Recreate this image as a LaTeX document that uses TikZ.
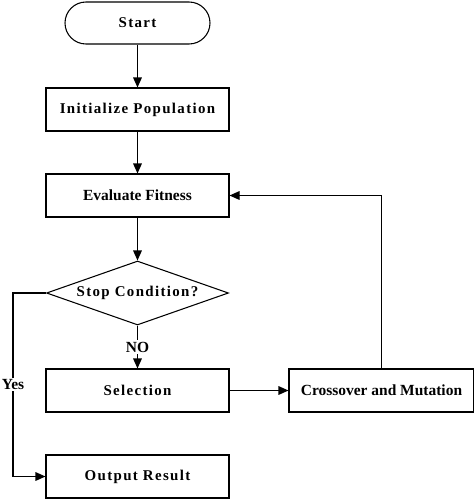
\documentclass[tikz,border=0pt]{standalone}
\usepackage{fontspec}
\setmainfont{Liberation Serif}
\newfontfamily\widefont[LetterSpace=9]{Liberation Serif}
\usepackage{tikz}
\usetikzlibrary{shapes,shapes.geometric,arrows,positioning,calc,arrows.meta}

\tikzset{
    procbox/.style={draw, line width=0.8pt, minimum width=137.25pt, minimum height=32.25pt, inner sep=0pt, font=\fontsize{11.2}{13}\widefont\bfseries},
    serifbox/.style={procbox, font=\fontsize{11.6}{13}\rmfamily\bfseries},
    termbox/.style={procbox, minimum width=108.75pt, minimum height=31.5pt, rounded corners=15.75pt},
    decbox/.style={draw, line width=0.8pt, diamond, shape aspect=2.84, minimum width=136.5pt, minimum height=48pt, inner sep=0pt, font=\fontsize{11.2}{13}\widefont\bfseries},
    flow/.style={line width=0.8pt, -{Triangle[length=7.5pt,width=6.5pt]}},
    tag/.style={fill=white, inner sep=1pt, font=\fontsize{11.6}{13}\rmfamily\bfseries}
}

\begin{document}
\begin{tikzpicture}[x=0.75pt, y=-0.75pt]
    \useasboundingbox (0,0) rectangle (474,500);
    \node[termbox] (start) at (137.5,23) {Start};
    \node[procbox] (init) at (137.5,109.5) {Initialize Population};
    \node[serifbox] (eval) at (137.5,195.5) {Evaluate Fitness};
    \node[decbox] (stop) at (137.5,293) {Stop Condition?};
    \node[procbox] (sel) at (137.5,390.5) {Selection};
    \node[serifbox, minimum width=138.75pt] (cross) at (381.5,390.5) {Crossover and Mutation};
    \node[procbox] (out) at (137.5,476.5) {Output Result};
    \coordinate (yesturn) at (13,293);

    \draw[flow] (start) -- (init);
    \draw[flow] (init) -- (eval);
    \draw[flow] (eval) -- (stop);
    \draw[flow] (stop) -- node[tag] {NO} (sel);
    \draw[flow] (sel) -- (cross);
    \draw[flow] (cross) |- (eval);
    \draw[flow] (stop.west) -- (yesturn) -- node[tag, pos=0.5] {Yes} (yesturn |- out.west) -- (out.west);
\end{tikzpicture}
\end{document}
